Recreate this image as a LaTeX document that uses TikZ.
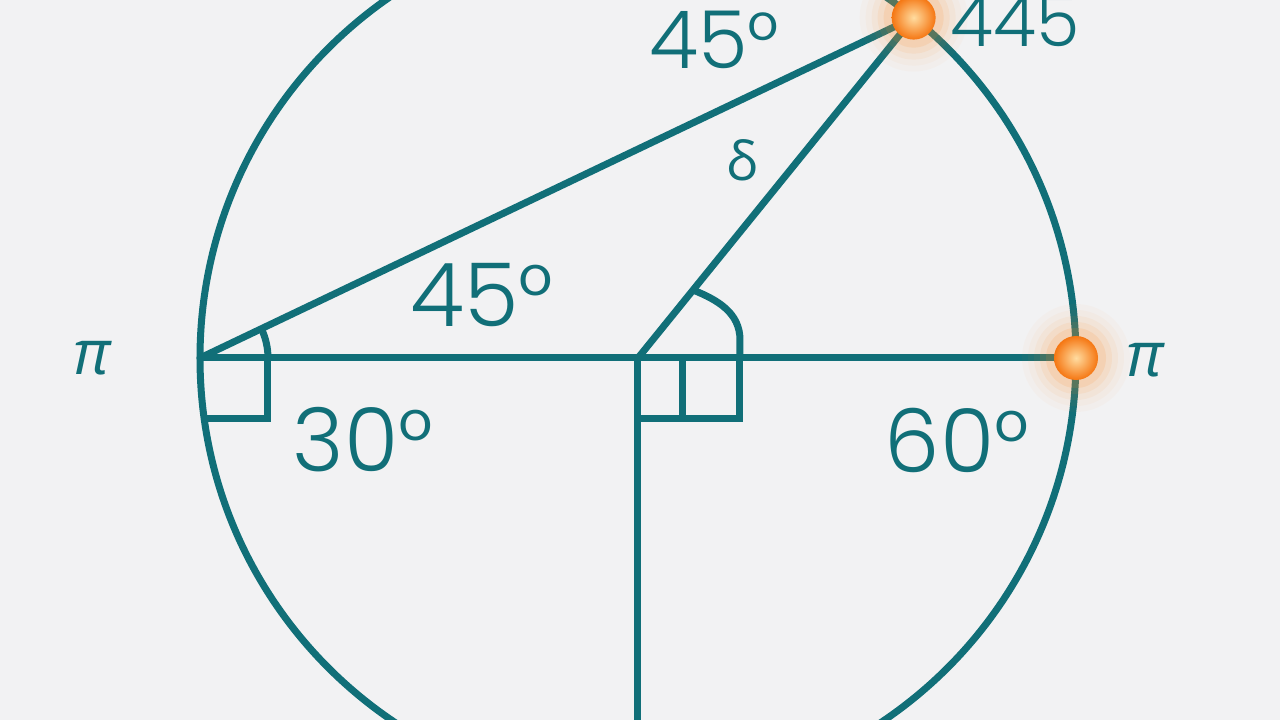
\documentclass[tikz,border=0pt]{standalone}
\usepackage{fontspec}
\setmainfont{Poppins Light}
\newfontfamily\greekfont{Open Sans}
\usepackage{tikz}
\usetikzlibrary{calc}

\definecolor{circteal}{RGB}{17,111,120}
\definecolor{bggrey}{RGB}{242,242,243}
\definecolor{glowor}{RGB}{255,140,40}
\definecolor{orlight}{RGB}{255,220,160}
\definecolor{ordark}{RGB}{245,118,18}

\begin{document}
\begin{tikzpicture}[x=1pt,y=1pt]

\tikzset{geo/.style={draw=circteal, line width=7pt},
lbl/.style={text=circteal, inner sep=0pt, font=\fontsize{88}{90}\selectfont},
greek/.style={text=circteal, inner sep=0pt, font=\greekfont\fontsize{#1}{#1}\selectfont},
greek/.default={56}}

\useasboundingbox (-638,-362) rectangle (642,358);
\fill[bggrey] (-638,-362) rectangle (642,358);
\clip (-638,-362) rectangle (642,358);

\coordinate (O) at (0,0);
\coordinate (L) at (180:438);
\coordinate (R) at (0:438);
\coordinate (T) at (51:438);
\coordinate (B) at (270:438);

\draw[geo] (O) circle (438);
\draw[geo] (L) -- (R);
\draw[geo] (O) -- (B);
\draw[geo] (L) -- (T);
\draw[geo] (O) -- (T);

% right angle marks
\draw[geo] ($(L)+(68,0)$) -- ++(0,-60) -- ($(L)+(4,-60)$);
\draw[geo] ($(L)+(68,0)$) arc[start angle=0, end angle=25.5, radius=68];

\draw[geo] (O) rectangle (102,-60);
\draw[geo] (45,0) -- (45,-60);
\draw[geo] (102,0) -- (102,18) .. controls (102,45) and (80,58) .. (55,68);

% glowing points
\foreach \p in {T,R}{
\foreach \r/\o in {54/0.03, 48/0.04, 42/0.06, 36/0.09, 30/0.13}
\fill[glowor, opacity=\o] (\p) circle (\r);
\shade[inner color=orlight, outer color=ordark] (\p) circle (22);
}

\node[lbl, font=\fontsize{80}{82}\selectfont] (a45top) at (76,318) {45°};
\node[lbl, font=\fontsize{70}{72}\selectfont, anchor=base west] (a445) at (312,311) {445};
\node[greek=54] (delta) at (104,198) {δ};
\node[lbl] (a45) at (-156,63) {45°};
\node[lbl] (a30) at (-275,-82) {30°};
\node[lbl] (a60) at (319,-82) {60°};
\node[greek, font=\greekfont\itshape\fontsize{62}{64}\selectfont] (piL) at (-546,0) {π};
\node[greek, font=\greekfont\itshape\fontsize{62}{64}\selectfont] (piR) at (507,-2) {π};

\end{tikzpicture}
\end{document}
